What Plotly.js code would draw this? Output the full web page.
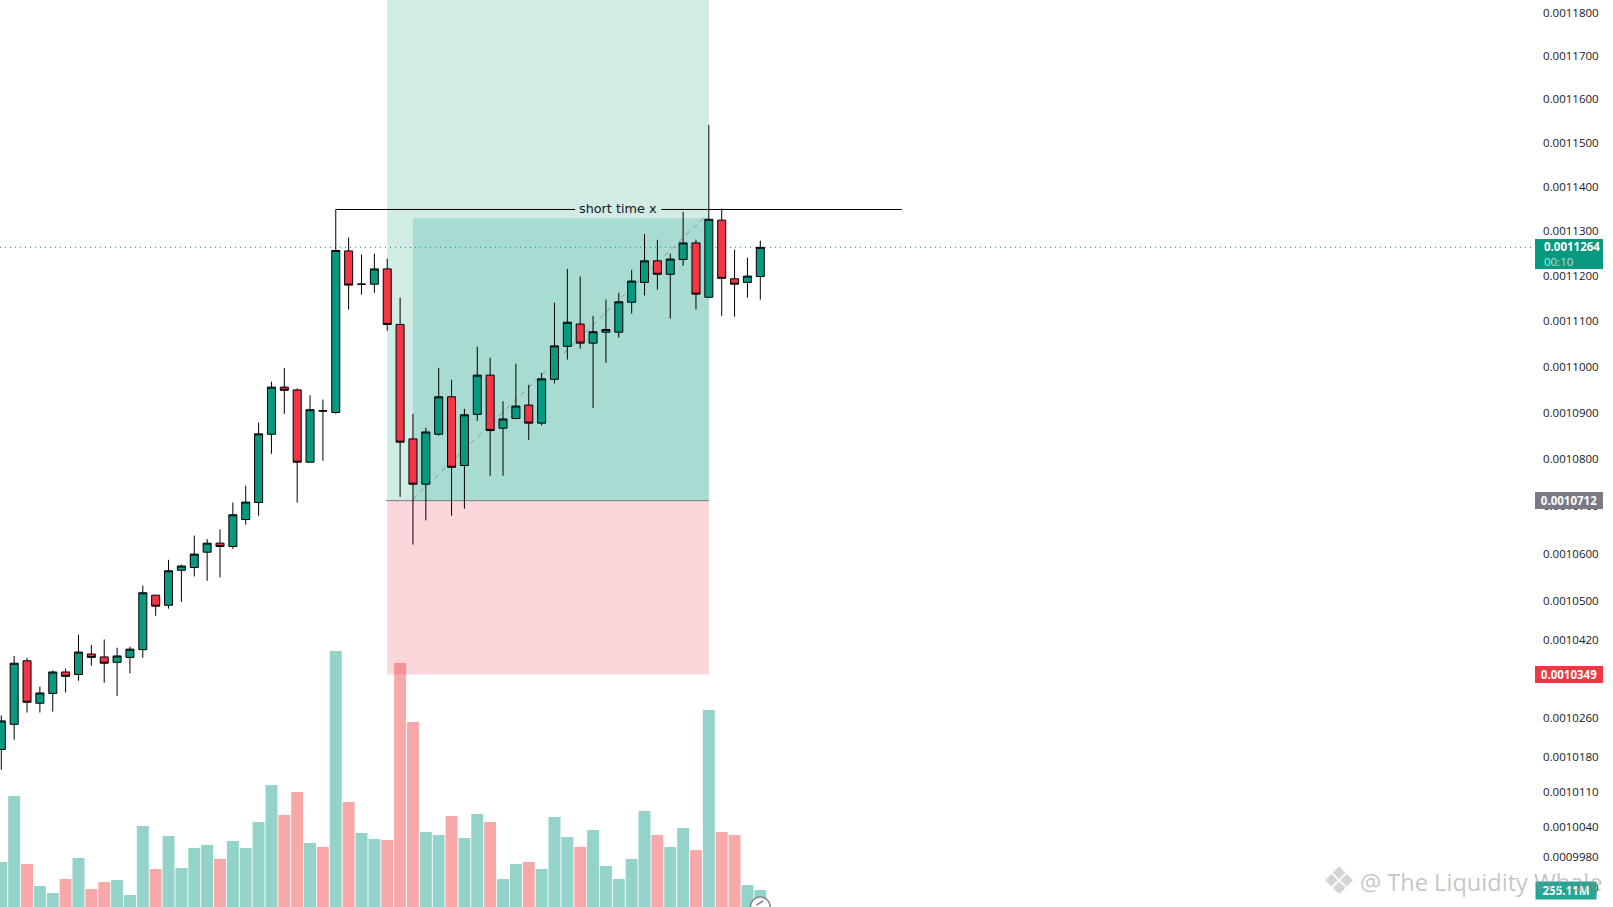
<!DOCTYPE html>
<html>
<head>
<meta charset="utf-8">
<script src="https://cdn.plot.ly/plotly-3.0.1.min.js"></script>
<style>html,body{margin:0;padding:0;background:#fff;overflow:hidden}#chart{width:1613px;height:907px}</style>
</head>
<body>
<div id="chart"></div>
<script>
// Prices in units of 0.0000001
const opens  = [10196,10247,10377,10290,10310,10354,10349,10391,10385,10374,10384,10400,10513,10492,10565,10571,10603,10622,10615,10672,10708,10854,10956,10950,10794,10905,10901,11256,11182,11182,11216,11093,10844,10747,10854,10935,10787,10897,10982,10867,10888,10917,10878,10973,11045,11094,11052,11076,11076,11142,11186,11234,11204,11237,11274,11153,11325,11194,11186,11199];
const closes = [10254,10372,10292,10311,10354,10345,10395,10384,10372,10387,10401,10518,10490,10564,10574,10599,10622,10615,10682,10709,10855,10956,10949,10794,10907,10904,11257,11180,11182,11216,11093,10837,10747,10859,10935,10783,10896,10982,10862,10887,10915,10878,10974,11046,11098,11052,11077,11082,11143,11189,11234,11204,11238,11274,11160,11327,11195,11182,11200,11264];
const highs  = [10265,10387,10383,10324,10357,10361,10431,10410,10421,10404,10406,10533,10513,10587,10577,10638,10631,10651,10708,10744,10879,10968,10998,10953,10938,10929,11257,11286,11248,11250,11239,11152,10898,10868,10998,10972,10909,11044,11020,10925,11007,10961,10987,11141,11216,11199,11112,11148,11163,11214,11294,11281,11250,11344,11281,11541,11351,11259,11241,11279];
const lows   = [10155,10216,10271,10271,10273,10312,10336,10367,10332,10305,10351,10383,10470,10485,10499,10552,10543,10550,10610,10661,10680,10812,10898,10708,10794,10797,10898,11126,11159,11163,11079,10720,10619,10670,10851,10680,10695,10883,10765,10765,10888,10842,10873,10964,11016,11040,10911,11009,11064,11117,11157,11170,11106,11223,11126,11153,11112,11110,11152,11148];
// Volume in millions
const volumes = [675,1665,645,315,210,420,735,270,375,405,180,1215,570,1065,585,885,930,720,990,885,1275,1830,1380,1725,960,900,3840,1575,1110,1020,1005,3660,2775,1125,1080,1365,1035,1395,1275,420,645,675,570,1350,1050,900,1155,615,420,720,1440,1080,900,1185,855,2955,1125,1080,330,255.11];
const tickPrices = [11800,11700,11600,11500,11400,11300,11200,11100,11000,10900,10800,10700,10600,10500,10420,10260,10180,10110,10040,9980,9920];

const UNIT = 1e-7;
const ENTRY = 10712, STOP = 10349, LAST = 11264, POS_TOP = 12000, INNER_TOP = 11329, CALLOUT = 11349;
const p = v => v * UNIT;
const fmt = v => p(v).toFixed(7);
const idx = opens.map((_, i) => i);

const FONT = '"Open Sans", "Noto Sans", sans-serif';
const GREEN = '#089981', RED = '#f23645', GREY = '#787b86';
const NB = '\u00a0\u00a0\u00a0';

const candle = {
  type: 'candlestick', x: idx,
  open: opens.map(p), close: closes.map(p), high: highs.map(p), low: lows.map(p),
  increasing: {line: {color: '#000', width: 1}, fillcolor: GREEN},
  decreasing: {line: {color: '#000', width: 1}, fillcolor: RED},
  whiskerwidth: 0, hoverinfo: 'skip', showlegend: false, yaxis: 'y'
};
const vol = {
  type: 'bar', x: idx, y: volumes, width: 0.93, yaxis: 'y2', hoverinfo: 'skip', showlegend: false,
  marker: {color: idx.map(i => closes[i] >= opens[i] ? 'rgba(8,153,129,0.43)' : 'rgba(237,60,62,0.44)'), line: {width: 0}}
};

const rect = (x0, x1, y0, y1, fill) => ({type: 'rect', xref: 'x', yref: 'y', x0, x1, y0: p(y0), y1: p(y1),
  fillcolor: fill, line: {width: 0}, layer: 'below'});
const seg = (x0, y0, x1, y1, color, width, dash) => ({type: 'line', xref: 'x', yref: 'y', x0, x1, y0: p(y0), y1: p(y1),
  line: {color, width, dash: dash || 'solid'}, layer: 'below'});

const shapes = [
  rect(30, 55, ENTRY, POS_TOP, '#d1ebe5'),
  rect(32, 55, ENTRY, INNER_TOP, '#a8dbd1'),
  rect(30, 55, STOP, ENTRY, '#fbd7db'),
  seg(29.9, ENTRY, 55, ENTRY, GREY, 1),
  seg(32, 10715, 54.6, 11330, '#8a8f96', 1, '5px,5px'),
  seg(-0.1, LAST, 119, LAST, GREEN, 1, '1px,4px'),
  seg(26, 11257, 26, CALLOUT, '#000', 1),
  seg(26, CALLOUT, 44.6, CALLOUT, '#000', 1),
  seg(51.3, CALLOUT, 70, CALLOUT, '#000', 1),
  {type: 'circle', xref: 'x', yref: 'paper', xsizemode: 'pixel', ysizemode: 'pixel', xanchor: 59, yanchor: 0,
   x0: -10, x1: 10, y0: -10, y1: 10, fillcolor: '#fff', line: {color: '#8a8a8a', width: 1.5}, layer: 'above'},
  {type: 'line', xref: 'x', yref: 'paper', xsizemode: 'pixel', ysizemode: 'pixel', xanchor: 59, yanchor: 0,
   x0: -4, x1: 3, y0: 2, y1: 6, line: {color: '#8a8a8a', width: 1.5}, layer: 'above'}
];

const box = (val, text, bg, extra) => Object.assign({
  xref: 'paper', yref: 'y', x: 1, y: Math.log10(p(val)), xanchor: 'left', yanchor: 'middle',
  text, showarrow: false, bgcolor: bg, borderpad: 0, borderwidth: 0, width: 68, height: 17,
  align: 'center', font: {family: FONT, size: 11.5, color: '#fff'}
}, extra || {});

const annotations = [
  {xref: 'x', yref: 'y', x: 47.9, y: Math.log10(p(CALLOUT)), text: 'short time x', showarrow: false,
   font: {family: '"DejaVu Sans", sans-serif', size: 12.8, color: '#131722'}, yshift: 1},
  box(LAST, NB + '<b>' + fmt(LAST) + '</b><br>' + NB + '<span style="color:#b5e0d8">00:10</span>', GREEN, {height: 30, yshift: -7, align: 'left'}),
  box(ENTRY, '<b>' + fmt(ENTRY) + '</b>', GREY),
  box(STOP, '<b>' + fmt(STOP) + '</b>', RED),
  {xref: 'paper', yref: 'paper', x: 1, y: 1 - 890.5 / 907, xanchor: 'left', yanchor: 'middle',
   text: '<b>255.11M</b>', showarrow: false, bgcolor: '#22a695', borderpad: 0, width: 60, height: 17,
   font: {family: FONT, size: 11.5, color: '#fff'}},
  {xref: 'paper', yref: 'paper', x: 1339 / 1535, y: 1 - 881 / 907, xanchor: 'center', yanchor: 'middle',
   text: '❖', showarrow: false, font: {family: '"DejaVu Sans", sans-serif', size: 38, color: 'rgba(170,170,170,0.5)'}},
  {xref: 'paper', yref: 'paper', x: 1358 / 1535, y: 1 - 881.5 / 907, xanchor: 'left', yanchor: 'middle',
   text: '@ The Liquidity Whale', showarrow: false, font: {family: FONT, size: 23.6, color: 'rgba(140,140,140,0.5)'}}
];

const layout = {
  width: 1613, height: 907, margin: {l: 0, r: 78, t: 0, b: 0, pad: 0},
  paper_bgcolor: '#fff', plot_bgcolor: '#fff', showlegend: false, boxgap: 0.11,
  xaxis: {range: [-0.101, 119.22], visible: false, fixedrange: true, rangeslider: {visible: false}},
  yaxis: {type: 'log', side: 'right', range: [Math.log10(0.00098823), Math.log10(0.00118306)],
    tickmode: 'array', tickvals: tickPrices.map(p), ticktext: tickPrices.map(fmt),
    ticks: '', showgrid: false, zeroline: false, showline: false, ticklabelstandoff: 7,
    tickfont: {family: FONT, size: 11.5, color: '#131722'}, fixedrange: true},
  yaxis2: {overlaying: 'y', side: 'left', range: [0, 13605], visible: false, fixedrange: true},
  shapes, annotations
};
Plotly.newPlot('chart', [vol, candle], layout, {displayModeBar: false, staticPlot: true});
</script>
</body>
</html>
